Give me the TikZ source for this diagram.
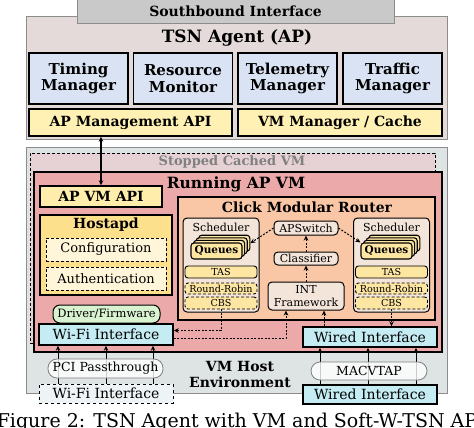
\documentclass[tikz,border=0pt]{standalone}
\usepackage{fontspec}
\setmainfont{DejaVu Serif}
\usepackage{xcolor}
\usepackage{tikz}
\usetikzlibrary{arrows.meta,positioning,calc}
\definecolor{sbgray}{HTML}{C9C9C9}
\definecolor{agentbg}{HTML}{E4DADA}
\definecolor{mgrblue}{HTML}{DAE3F3}
\definecolor{apiyel}{HTML}{FFF0B3}
\definecolor{hostbg}{HTML}{DEE3E3}
\definecolor{stopbg}{HTML}{E6D2D4}
\definecolor{runbg}{HTML}{EBA9AA}
\definecolor{hapdyel}{HTML}{FCE08C}
\definecolor{cfgyel}{HTML}{FFF6D9}
\definecolor{clickbg}{HTML}{F9C7A6}
\definecolor{schedbg}{HTML}{F4E5DB}
\definecolor{tasyel}{HTML}{FDE6A2}
\definecolor{drvgreen}{HTML}{D9F2D0}
\definecolor{ifcyan}{HTML}{C4ECF2}
\definecolor{ifpale}{HTML}{EEF3F5}
\tikzset{
  frame/.style={draw=black!45, line width=0.8pt, inner sep=0pt},
  heavy/.style={draw, line width=1.4pt, inner sep=0pt},
  mgr/.style={heavy, fill=mgrblue, align=center, minimum width=99pt, minimum height=51pt, font=\fontsize{15}{16.5}\selectfont\bfseries},
  api/.style={heavy, fill=apiyel, minimum height=27pt, font=\fontsize{14}{16}\selectfont\bfseries},
  title/.style={inner sep=0pt, font=\fontsize{14}{16}\selectfont\bfseries},
  dashbox/.style={draw, densely dashed, line width=1pt, inner sep=0pt},
  sched/.style={draw, rounded corners=4pt, line width=1pt, fill=schedbg, minimum width=76pt, minimum height=94pt, inner sep=0pt},
  queue/.style={draw, rounded corners=3pt, line width=1.1pt, fill=tasyel, minimum width=51pt, minimum height=16pt, inner sep=0pt, font=\fontsize{10.5}{11}\selectfont\bfseries},
  pill/.style={draw, rounded corners=3pt, line width=0.9pt, fill=tasyel, minimum width=72pt, inner sep=0pt, font=\fontsize{9.6}{10}\selectfont},
  mid/.style={draw, rounded corners=4pt, line width=1pt, fill=schedbg, inner sep=0pt, align=center, font=\fontsize{11}{12.5}\selectfont},
  iface/.style={heavy, fill=ifcyan, minimum width=134pt, minimum height=20pt, font=\fontsize{14}{15}\selectfont},
  pass/.style={draw=black!50, line width=0.8pt, rounded corners=9pt, fill=white, fill opacity=0.8, text opacity=1, inner sep=0pt, font=\fontsize{12.5}{14}\selectfont},
  link/.style={-{Stealth[length=5pt,width=4.5pt]}, line width=1pt},
  dlink/.style={link, dash pattern=on 2pt off 1.5pt},
}
\begin{document}
\begin{tikzpicture}[x=1pt,y=-1pt]
\useasboundingbox (0,0) rectangle (474,428);
\node[frame, fill=agentbg, minimum width=421pt, minimum height=123pt] (agent) at (236.5,77.5) {};
\node[frame, fill=sbgray, minimum width=317pt, minimum height=25pt, font=\fontsize{14}{16}\selectfont\bfseries] (south) at (235.5,11) {Southbound Interface};
\node[title, font=\fontsize{17}{18}\selectfont\bfseries] (agentlbl) at (237,38) {TSN Agent (AP)};
\node[mgr] (timing) at (78.5,78.5) {Timing\\Manager};
\node[mgr] (resource) at (183,78.5) {Resource\\Monitor};
\node[mgr] (telemetry) at (287.5,78.5) {Telemetry\\Manager};
\node[mgr] (traffic) at (392.5,78.5) {Traffic\\Manager};
\node[api, minimum width=203pt] (apmgmt) at (130.5,122.5) {AP Management API};
\node[api, minimum width=204pt] (vmmgr) at (340,122.5) {VM Manager / Cache};

\node[frame, fill=hostbg, minimum width=421pt, minimum height=246pt] (host) at (236.5,270) {};
\node[dashbox, fill=stopbg, minimum width=405pt, minimum height=190pt] (stopped) at (232.5,248) {};
\node[title, text=black!50, font=\fontsize{13}{14}\selectfont\bfseries] (stoppedlbl) at (232,162) {Stopped Cached VM};
\node[heavy, fill=runbg, minimum width=408pt, minimum height=180pt] (running) at (238,262) {};
\node[title, font=\fontsize{15.5}{17}\selectfont\bfseries] (runninglbl) at (236,184) {Running AP VM};
\node[api, fill=apiyel!80!hapdyel, minimum width=122pt, minimum height=21pt] (apvmapi) at (101,196.5) {AP VM API};
\draw[{Stealth[length=5pt,width=4.5pt]}-{Stealth[length=5pt,width=4.5pt]}, line width=1.2pt] (apvmapi.north) -- (apvmapi.north |- apmgmt.south);

\node[heavy, fill=hapdyel, minimum width=132pt, minimum height=80pt] (hostapd) at (106,255) {};
\node[title] (hostapdlbl) at (106,225) {Hostapd};
\node[dashbox, fill=cfgyel, minimum width=120pt, minimum height=23pt, font=\fontsize{13}{14}\selectfont] (config) at (106,249.5) {Configuration};
\node[dashbox, fill=cfgyel, minimum width=120pt, minimum height=23pt, font=\fontsize{13}{14}\selectfont] (auth) at (106,278.5) {Authentication};

\node[heavy, fill=clickbg, minimum width=257pt, minimum height=123pt] (click) at (306.5,258.5) {};
\node[title] (clicklbl) at (307,207) {Click Modular Router};

\node[sched] (schedL) at (221,265) {};
\node[font=\fontsize{11}{12}\selectfont, inner sep=0pt] (schedLlbl) at (221,227) {Scheduler};
\foreach \k in {3,2,1}
  \node[queue] (qL\k) at (216.5+2.6*\k,251-2.6*\k) {};
\node[queue] (queuesL) at (216.5,251) {Queues};
\node[pill, minimum height=12pt] (tasL) at (221,272) {TAS};
\node[pill, densely dashed, minimum height=11pt] (rrL) at (221,288.5) {Round-Robin};
\node[pill, densely dashed, minimum height=12pt] (cbsL) at (221,303) {CBS};

\node[sched] (schedR) at (391.5,265) {};
\node[font=\fontsize{11}{12}\selectfont, inner sep=0pt] (schedRlbl) at (391.5,227) {Scheduler};
\foreach \k in {3,2,1}
  \node[queue] (qR\k) at (386.5+2.6*\k,251-2.6*\k) {};
\node[queue] (queuesR) at (386.5,251) {Queues};
\node[pill, minimum height=12pt] (tasR) at (391.5,272) {TAS};
\node[pill, densely dashed, minimum height=11pt] (rrR) at (391.5,288.5) {Round-Robin};
\node[pill, densely dashed, minimum height=12pt] (cbsR) at (391.5,303) {CBS};

\node[mid, minimum width=64pt, minimum height=14pt] (apswitch) at (306,228) {APSwitch};
\node[mid, minimum width=64pt, minimum height=13pt] (classifier) at (306,258.5) {Classifier};
\node[mid, minimum width=76pt, minimum height=28pt] (intfw) at (306,296) {INT\\Framework};
\draw[dlink] (classifier.north) -- (apswitch.south);
\draw[dlink] (intfw.north) -- (classifier.south);
\draw[dlink] (apswitch.west) -- (qL3.east);
\draw[dlink] (apswitch.east) -- (queuesR.north west);

\node[draw, rounded corners=7pt, line width=1pt, fill=drvgreen, minimum width=107pt, minimum height=18pt, inner sep=0pt, font=\fontsize{11.5}{12}\selectfont] (driver) at (106.5,314) {Driver/Firmware};
\node[iface, minimum height=21pt] (wifi) at (106,334.5) {Wi-Fi Interface};
\node[iface] (wired) at (370,337) {Wired Interface};
\coordinate (intinL) at ([xshift=-20pt]intfw.south);
\coordinate (intinR) at ([xshift=18pt]intfw.south);
\draw[dlink] (cbsL.south) |- ([yshift=4pt]wifi.east);
\draw[dlink] ([yshift=-4pt]wifi.east) -| (intinL);
\draw[dlink] (wired.north -| intinR) -- (intinR);
\draw[dlink] (cbsR.south) -- (cbsR.south |- wired.north);

\node[iface, dashed, line width=1pt, fill=ifpale, minimum height=19pt] (wifibot) at (106,393.5) {Wi-Fi Interface};
\node[iface, minimum height=19pt] (wiredbot) at (370,394.5) {Wired Interface};
\foreach \dx in {-48,0,47}
  \draw[link] ([xshift=\dx pt]wifibot.north) -- ([xshift=\dx pt]wifi.south);
\foreach \dx in {-50,-2,46}
  \draw[link] ([xshift=\dx pt]wiredbot.north) -- ([xshift=\dx pt]wired.south);
\node[pass, minimum width=115pt, minimum height=19pt] (pci) at (105.5,368.5) {PCI Passthrough};
\node[pass, minimum width=116pt, minimum height=18pt] (macvtap) at (369,371) {MACVTAP};
\node[title, align=center] (hostlbl) at (240,374) {VM Host\\Environment};

\node[anchor=base, inner sep=0pt, font=\fontsize{19}{20}\selectfont] (caption) at (237,427) {Figure 2: TSN Agent with VM and Soft-W-TSN AP};
\end{tikzpicture}
\end{document}
